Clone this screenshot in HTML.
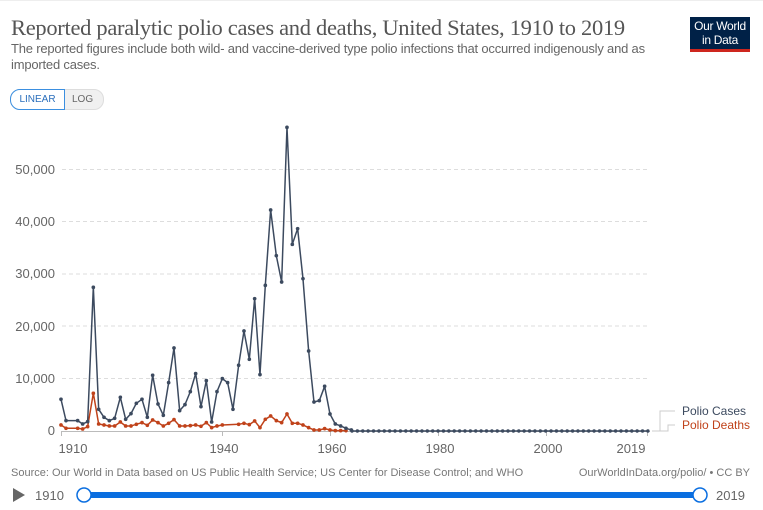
<!DOCTYPE html>
<html><head><meta charset="utf-8"><style>
body{margin:0;width:763px;height:510px;background:#fff;font-family:"Liberation Sans",sans-serif;overflow:hidden;position:relative}
.t{position:absolute;white-space:nowrap}
</style></head><body>
<div style="position:absolute;left:0;top:0;width:763px;height:1px;background:#eee"></div>
<div class="t" style="left:11px;top:15px;font-family:'Liberation Serif',serif;font-size:22.5px;color:#555;letter-spacing:-0.3px">Reported paralytic polio cases and deaths, United States, 1910 to 2019</div>
<div class="t" style="left:11px;top:41px;font-size:13px;color:#666;line-height:16px;white-space:normal;width:640px;letter-spacing:-0.2px">The reported figures include both wild- and vaccine-derived type polio infections that occurred indigenously and as imported cases.</div>
<div style="position:absolute;left:690px;top:17px;width:60px;height:35px;background:#002147;color:#fff;font-size:12px;line-height:14px;text-align:center;padding-top:2px;box-sizing:border-box;letter-spacing:-0.3px">Our World<br>in Data</div>
<div style="position:absolute;left:690px;top:49px;width:60px;height:3px;background:#ce261e"></div>
<div style="position:absolute;left:10px;top:89px;width:92px;height:19px;border-radius:10px;background:#f0f0f0;border:1px solid #ddd"></div>
<div style="position:absolute;left:10px;top:89px;width:53px;height:19px;border-radius:10px 0 0 10px;background:#fff;border:1px solid #3b8fe0;color:#2a6ebb;font-size:10px;line-height:19px;text-align:center">LINEAR</div>
<div class="t" style="left:72px;top:89px;font-size:10px;line-height:21px;color:#666">LOG</div>
<svg width="763" height="510" style="position:absolute;left:0;top:0">
<defs><marker id="mc" markerUnits="userSpaceOnUse" markerWidth="12" markerHeight="12" refX="6" refY="6"><circle cx="6" cy="6" r="5.5" fill="#3c4a5f"/></marker>
<marker id="md" markerUnits="userSpaceOnUse" markerWidth="12" markerHeight="12" refX="6" refY="6"><circle cx="6" cy="6" r="5.5" fill="#c0421a"/></marker></defs>
<g stroke="#ddd" stroke-dasharray="4 3" stroke-width="1">
<line x1="62" y1="169.5" x2="650" y2="169.5"/><line x1="62" y1="221.5" x2="650" y2="221.5"/><line x1="62" y1="274" x2="650" y2="274"/><line x1="62" y1="326" x2="650" y2="326"/><line x1="62" y1="378.5" x2="650" y2="378.5"/>
</g>
<g font-size="13" fill="#666" text-anchor="end">
<text x="55" y="174">50,000</text><text x="55" y="226">40,000</text><text x="55" y="278">30,000</text><text x="55" y="331">20,000</text><text x="55" y="383">10,000</text><text x="55" y="435">0</text></g>
<line x1="61" y1="431.5" x2="650" y2="431.5" stroke="#bbb"/>
<g stroke="#bbb"><line x1="61.5" y1="431" x2="61.5" y2="436"/><line x1="222.5" y1="431" x2="222.5" y2="436"/><line x1="330.5" y1="431" x2="330.5" y2="436"/><line x1="438.5" y1="431" x2="438.5" y2="436"/><line x1="546.5" y1="431" x2="546.5" y2="436"/><line x1="647.5" y1="431" x2="647.5" y2="436"/></g>
<g font-size="13" fill="#666" text-anchor="middle">
<text x="73" y="453">1910</text><text x="224" y="453">1940</text><text x="332" y="453">1960</text><text x="440" y="453">1980</text><text x="548" y="453">2000</text><text x="631" y="453">2019</text></g>
<g transform="translate(50,110) scale(0.3333)" fill="none" stroke-width="4.5" stroke-linejoin="round">
<polyline stroke="#c0421a" marker-start="url(#md)" marker-mid="url(#md)" marker-end="url(#md)" points="33,945 48,955 83,955 98,957 113,950 130,850 146,942 162,945 178,948 194,948 211,936 227,948 243,948 259,943 276,938 292,946 308,930 324,938 340,948 356,940 372,929 389,948 405,948 421,947 437,945 453,949 469,938 485,953 501,948 517,945 566,943 582,940 598,944 614,933 630,953 646,928 662,918 679,932 695,938 711,912 727,940 743,940 759,945 776,953 792,960 808,960 824,956 840,960 856,962 872,962 888,962"/>
<polyline stroke="#3c4a5f" marker-start="url(#mc)" marker-mid="url(#mc)" marker-end="url(#mc)" points="33,868 48,932 83,932 98,942 113,935 130,532 146,898 162,922 178,932 194,925 211,862 227,928 243,911 259,880 276,868 292,922 308,796 324,882 340,916 356,818 372,714 389,902 405,884 421,845 437,791 453,890 469,812 485,936 501,845 517,806 533,818 549,898 566,766 582,663 598,748 614,566 630,794 646,526 662,300 679,437 695,516 711,52 727,403 743,356 759,506 776,723 792,876 808,872 824,829 840,912 856,942 872,948 888,955 904,960"/>
</g>
<line x1="351" y1="431" x2="648" y2="431" stroke="#3c4a5f" stroke-width="1.5"/>
<line x1="352" y1="431" x2="650" y2="431" stroke="#3c4a5f" stroke-width="3.4" stroke-linecap="round" stroke-dasharray="0 5.38"/>
<polyline points="652,431 660,431 660,411 675,411" fill="none" stroke="#ccc"/>
<polyline points="652,431 668,431 668,425 675,425" fill="none" stroke="#ccc"/>
<text x="682" y="415" font-size="12" fill="#3c4a5f">Polio Cases</text>
<text x="682" y="429" font-size="12" fill="#c0421a">Polio Deaths</text>
<text x="11" y="476" font-size="11" fill="#777">Source: Our World in Data based on US Public Health Service; US Center for Disease Control; and WHO</text>
<text x="750" y="476" font-size="11" fill="#777" text-anchor="end">OurWorldInData.org/polio/ • CC BY</text>
<polygon points="13,488 13,502 25,495" fill="#666"/>
<text x="35" y="500" font-size="13" fill="#666">1910</text>
<line x1="84" y1="495" x2="700" y2="495" stroke="#0a6ee0" stroke-width="6"/>
<circle cx="84" cy="495" r="7" fill="#fff" stroke="#0a6ee0" stroke-width="1.5"/>
<circle cx="700" cy="495" r="7" fill="#fff" stroke="#0a6ee0" stroke-width="1.5"/>
<text x="716" y="500" font-size="13" fill="#666">2019</text>
</svg>
</body></html>
